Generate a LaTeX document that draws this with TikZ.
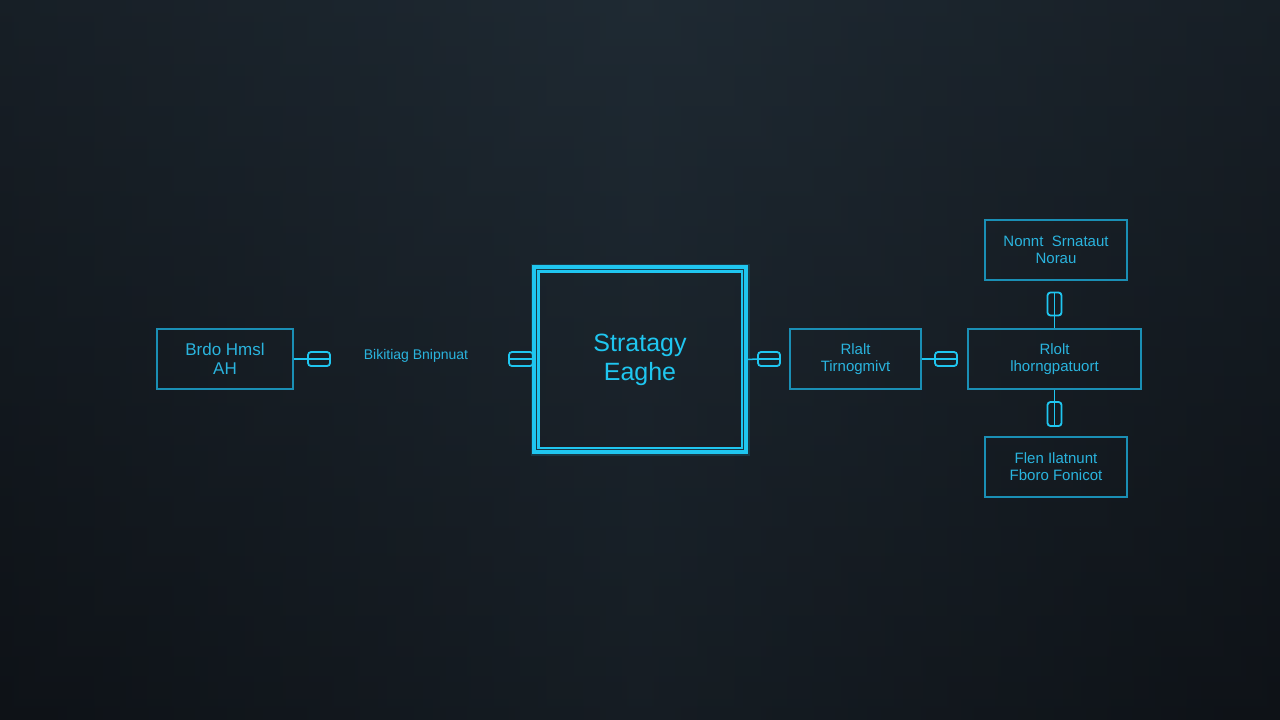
\documentclass[tikz,border=0pt]{standalone}
\usepackage{fontspec}
\setmainfont{Liberation Sans}
\usetikzlibrary{positioning}
\definecolor{bgtop}{HTML}{1F2A33}
\definecolor{bgbot}{HTML}{0E1217}
\definecolor{wire}{HTML}{1A8FB5}
\definecolor{neon}{HTML}{1FC6F0}
\definecolor{ink}{HTML}{2AB4DE}

\tikzset{
  box/.style={draw=wire, line width=1.3pt, align=center, text=ink, font=\fontsize{15}{17}\selectfont, inner sep=0pt},
  plug/.style={draw=neon, line width=1.8pt, rounded corners=3pt, inner sep=0pt,
    path picture={\draw[color=neon, line width=1.6pt] (path picture bounding box.west) -- (path picture bounding box.east);}},
  vplug/.style={plug, path picture={\draw[color=neon, line width=1.6pt] (path picture bounding box.north) -- (path picture bounding box.south);}},
  wireline/.style={draw=neon, line width=1.5pt}
}

\begin{document}
\begin{tikzpicture}[x=1pt, y=-1pt]
  % draws the background
  \shade[top color=bgtop, bottom color=bgbot] (0,0) rectangle (1280,720);
  \shade[left color=bgbot, right color=bgbot, middle color=bgtop, opacity=0.45] (0,0) rectangle (1280,720);
  \useasboundingbox (0,0) rectangle (1280,720);

  % draws the boxes
  \node[box, minimum width=136pt, minimum height=60pt, font=\fontsize{17}{19}\selectfont] (feed) at (225,359) {Brdo Hmsl\\AH};
  \node[text=ink, font=\fontsize{14}{16}\selectfont] (stream) at (416,356) {Bikitiag Bnipnuat};
  \node[draw=neon, line width=7pt, opacity=0.15, minimum width=212pt, minimum height=185pt] (glow) at (640,359.5) {};
  \node[draw=neon, line width=3.4pt, minimum width=212pt, minimum height=185pt, align=center, text=neon,
        font=\fontsize{25}{29}\selectfont] (engine) at (640,359.5) {Stratagy\\Eaghe};
  \draw[color=neon, line width=2.4pt] ([shift={(6,6)}]engine.north west) rectangle ([shift={(-6,-6)}]engine.south east);
  \node[box, minimum width=131pt, minimum height=60pt] (trade) at (855.5,359) {Rlalt\\Tirnogmivt};
  \node[box, minimum width=173pt, minimum height=60pt] (risk) at (1054.5,359) {Rlolt\\lhorngpatuort};
  \node[box, minimum width=142pt, minimum height=60pt] (sentiment) at (1056,250) {Nonnt\ \ Srnataut\\Norau};
  \node[box, minimum width=142pt, minimum height=60pt] (report) at (1056,467) {Flen Ilatnunt\\Fboro Fonicot};

  % draws the plugs
  \node[plug, minimum width=22pt, minimum height=14pt] (p1) at (319,359) {};
  \node[plug, minimum width=24pt, minimum height=14pt] (p2) at (521,359) {};
  \node[plug, minimum width=22pt, minimum height=14pt] (p3) at (769,359) {};
  \node[plug, minimum width=22pt, minimum height=14pt] (p4) at (946,359) {};
  \node[vplug, minimum width=14pt, minimum height=23pt] (p5) at (1054.5,304) {};
  \node[vplug, minimum width=14pt, minimum height=24pt] (p6) at (1054.5,414) {};

  % draws the wires
  \draw[wireline] (feed.east) -- (p1.west);
  \draw[wireline] (p2.east) -- (engine.west);
  \draw[wireline] (engine.east) -- (p3.west);
  \draw[wireline] (trade.east) -- (p4.west);
  \draw[wireline] (p5.south) -- (risk.north);
  \draw[wireline] (risk.south) -- (p6.north);
\end{tikzpicture}
\end{document}
